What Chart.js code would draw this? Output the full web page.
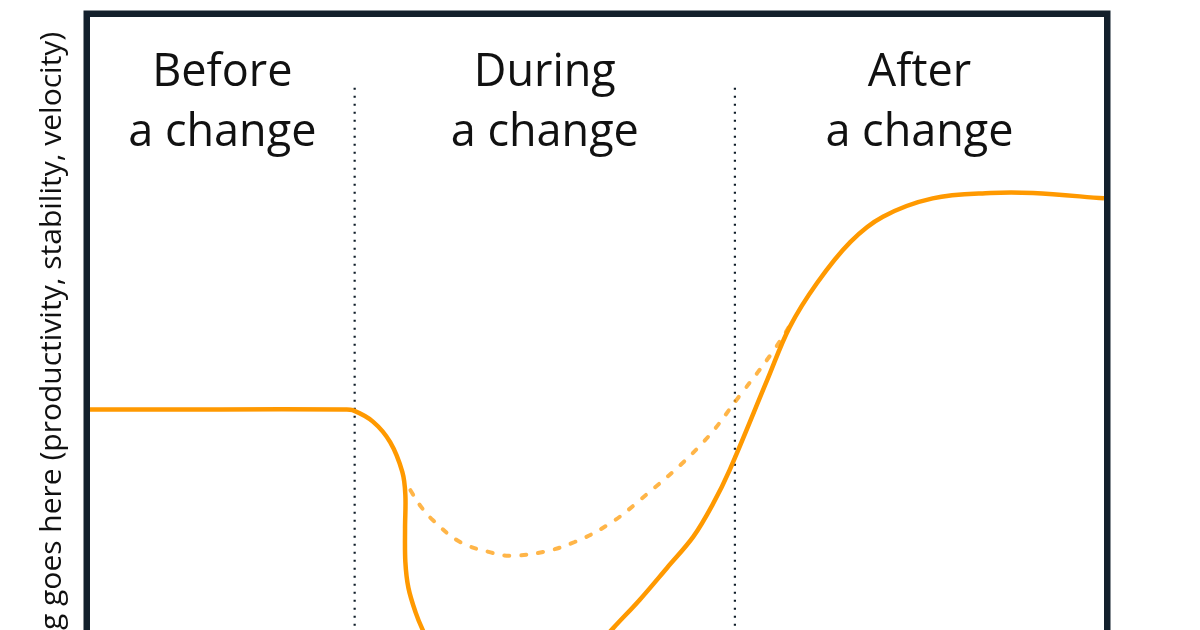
<!DOCTYPE html>
<html>
<head>
<meta charset="utf-8">
<script src="https://cdn.jsdelivr.net/npm/chart.js@4.4.1/dist/chart.umd.min.js"></script>
<style>
  html, body { margin: 0; padding: 0; background: #fff; overflow: hidden; }
  #wrap { width: 1200px; height: 630px; overflow: hidden; }
</style>
</head>
<body>
<div id="wrap"><canvas id="changeChart" width="1200" height="790"></canvas></div>
<script>
// phases of the change, split by the two dotted lines
const phaseLabels = [['Before', 'a change'], ['During', 'a change'], ['After', 'a change']];
const phaseBounds = [26.1, 63.6];
const phaseLineTop = 90.7;

// what actually happens
const actualX = [0, 12.8, 25.0, 25.9, 27.9, 29.6, 30.8, 31.1, 31.07, 31.1, 31.4, 32.1, 32.8, 34.5, 36.5, 39.4,
    42.4, 45.4, 48.5, 51.6, 54.2, 56.9, 59.5, 61.4, 63.1, 66.8, 69.0, 71.7, 75.0, 78.2, 83.1, 88.8, 93.0, 100];
const actualY = [48.5, 48.5, 48.5, 48.4, 46.9, 44.2, 40.3, 37.3, 32.9, 28.5, 25.1, 21.9, 19.6, 15.0, 12.3, 10.8,
    10.6, 11.7, 15.2, 19.8, 23.5, 27.7, 31.8, 36.0, 40.6, 52.4, 59.3, 65.1, 70.5, 73.8, 76.2, 76.9, 76.9, 76.2];

// what we hope happens
const hopedX = [31.6, 32.5, 33.8, 36.5, 39.6, 41.4, 44.7, 47.8, 51.0, 53.7, 60.2, 64.3, 67.3, 69.5];
const hopedY = [37.9, 36.0, 34.0, 31.1, 29.7, 29.3, 29.8, 31.1, 33.3, 36.0, 43.8, 50.7, 56.0, 60.5];

const yTitle = 'Something goes here (productivity, stability, velocity)';

const toPoints = (xs, ys) => xs.map((x, i) => ({x: x, y: ys[i]}));

const dividerSets = phaseBounds.map(x => ({
    data: [{x: x, y: phaseLineTop}, {x: x, y: 0}],
    borderColor: '#0f1c28',
    borderWidth: 2.2,
    borderDash: [2, 6],
    pointRadius: 0,
    tension: 0
}));

const framePlugin = {
    id: 'frame',
    afterDatasetsDraw(chart) {
        const {ctx, chartArea: a, scales} = chart;
        ctx.save();
        // headings
        ctx.fillStyle = '#111';
        ctx.font = '45px "Open Sans"';
        ctx.textAlign = 'center';
        ctx.textBaseline = 'alphabetic';
        const edges = [scales.x.min].concat(phaseBounds, [scales.x.max]);
        phaseLabels.forEach((lines, i) => {
            const cx = scales.x.getPixelForValue((edges[i] + edges[i + 1]) / 2);
            lines.forEach((t, j) => ctx.fillText(t, cx, 86 + j * 60));
        });
        // box
        ctx.strokeStyle = '#13202c';
        ctx.lineWidth = 6.5;
        ctx.strokeRect(a.left - 3.25, a.top - 3.25, a.width + 6.5, a.height + 6.5);
        ctx.restore();
    }
};

new Chart(document.getElementById('changeChart'), {
    type: 'line',
    data: {
        datasets: [{
            data: toPoints(actualX, actualY),
            borderColor: '#ff9900',
            borderWidth: 4.5,
            pointRadius: 0,
            tension: 0.35
        }, {
            data: toPoints(hopedX, hopedY),
            borderColor: 'rgba(255, 160, 20, 0.78)',
            borderWidth: 4,
            borderDash: [5, 12],
            borderCapStyle: 'round',
            pointRadius: 0,
            tension: 0.4
        }].concat(dividerSets)
    },
    plugins: [framePlugin],
    options: {
        responsive: false,
        animation: false,
        devicePixelRatio: 1,
        layout: {padding: {left: 0, top: 17, right: 96, bottom: 11}},
        plugins: {legend: {display: false}, tooltip: {enabled: false}},
        scales: {
            x: {type: 'linear', min: 0, max: 100, display: false},
            y: {
                min: 0,
                max: 100,
                grid: {display: false, drawTicks: false, tickLength: 0},
                border: {display: false},
                ticks: {display: false},
                title: {
                    display: true,
                    text: yTitle,
                    color: '#111',
                    font: {family: '"Open Sans"', size: 30},
                    padding: {top: 34, bottom: 20}
                }
            }
        }
    }
});
</script>
</body>
</html>
